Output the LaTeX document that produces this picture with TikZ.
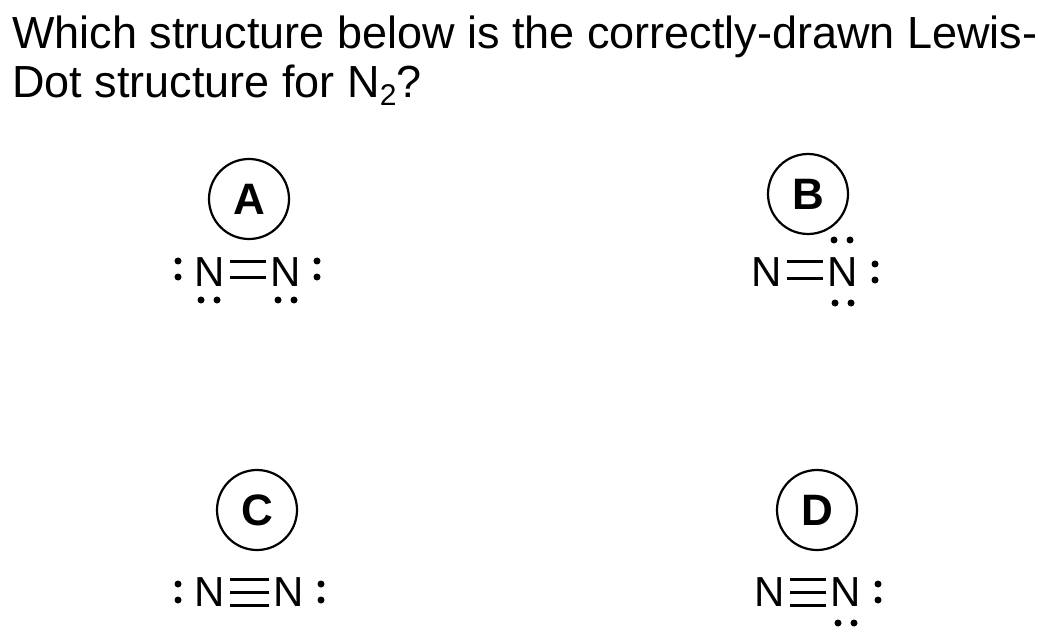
\documentclass[tikz,border=0pt]{standalone}
\usepackage{fontspec}
\setmainfont{Liberation Sans}
\begin{document}
\begin{tikzpicture}[x=1pt,y=-1pt,
  lbl/.style={draw,circle,line width=2.2pt,minimum size=80pt,inner sep=0pt,font=\fontsize{44}{48}\selectfont\bfseries},
  atom/.style={inner sep=0pt,font=\fontsize{42}{46}\selectfont},
  bond/.style={line width=3pt,shorten <=5pt,shorten >=5pt},
  dot/.style={fill,circle,inner sep=0pt,minimum size=7pt}]
\useasboundingbox (0,0) rectangle (1038,636);
\node[anchor=base west,inner sep=0pt,font=\fontsize{45}{50}\selectfont] (title) at (12,49) {Which structure below is the correctly-drawn Lewis-};
\node[anchor=base west,inner sep=0pt,font=\fontsize{45}{50}\selectfont] (title2) at (12,98) {Dot structure for N\raisebox{-8pt}{\fontsize{30}{32}\selectfont 2}?};
% A
\node[lbl] (A) at (249,199) {A};
\node[atom] (a1) at (210,272) {N};
\node[atom] (a2) at (286,272) {N};
\draw[bond] (a1.east|-0,262) -- (a2.west|-0,262);
\draw[bond] (a1.east|-0,277) -- (a2.west|-0,277);
\node[dot] (ad1) at (178,261) {}; \node[dot] (ad2) at (178,277) {};
\node[dot] (ad3) at (317,261) {}; \node[dot] (ad4) at (317,277) {};
\node[dot] (ad5) at (201,300) {}; \node[dot] (ad6) at (217,300) {};
\node[dot] (ad7) at (278,300) {}; \node[dot] (ad8) at (294,300) {};
% B
\node[lbl] (B) at (808,194) {B};
\node[atom] (b1) at (767,272) {N};
\node[atom] (b2) at (843,272) {N};
\draw[bond] (b1.east|-0,262) -- (b2.west|-0,262);
\draw[bond] (b1.east|-0,278) -- (b2.west|-0,278);
\node[dot] (bd1) at (834,240) {}; \node[dot] (bd2) at (850,240) {};
\node[dot] (bd3) at (835,303) {}; \node[dot] (bd4) at (851,303) {};
\node[dot] (bd5) at (875,264) {}; \node[dot] (bd6) at (875,280) {};
% C
\node[lbl] (C) at (257,510) {C};
\node[atom] (c1) at (210,592) {N};
\node[atom] (c2) at (289,592) {N};
\draw[bond] (c1.east|-0,579) -- (c2.west|-0,579);
\draw[bond] (c1.east|-0,592) -- (c2.west|-0,592);
\draw[bond] (c1.east|-0,605) -- (c2.west|-0,605);
\node[dot] (cd1) at (178,584) {}; \node[dot] (cd2) at (178,600) {};
\node[dot] (cd3) at (321,584) {}; \node[dot] (cd4) at (321,600) {};
% D
\node[lbl] (D) at (817,510) {D};
\node[atom] (d1) at (770,592) {N};
\node[atom] (d2) at (846,592) {N};
\draw[bond] (d1.east|-0,579) -- (d2.west|-0,579);
\draw[bond] (d1.east|-0,592) -- (d2.west|-0,592);
\draw[bond] (d1.east|-0,605) -- (d2.west|-0,605);
\node[dot] (dd1) at (878,584) {}; \node[dot] (dd2) at (878,600) {};
\node[dot] (dd3) at (838,623) {}; \node[dot] (dd4) at (854,623) {};
\end{tikzpicture}
\end{document}
